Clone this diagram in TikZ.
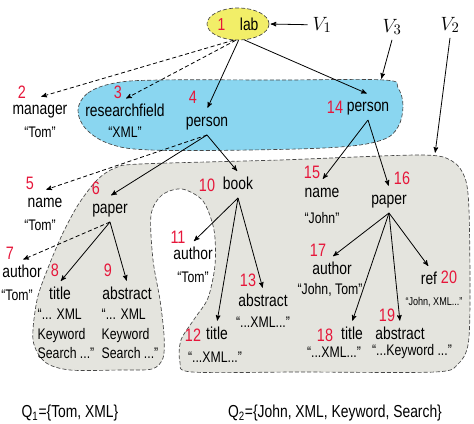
\documentclass[tikz,border=0pt]{standalone}
\usepackage{fontspec}
\setmainfont{Liberation Sans}[FakeStretch=0.8]
\usetikzlibrary{arrows,shapes.geometric}
\definecolor{numred}{RGB}{230,22,58}
\definecolor{bluefill}{RGB}{138,214,240}
\definecolor{grayfill}{RGB}{228,228,222}
\definecolor{yellowfill}{RGB}{242,238,104}
\definecolor{border}{RGB}{70,70,70}

\begin{document}
\begin{tikzpicture}[x=0.75pt,y=-0.75pt,>=stealth',line width=0.6pt]
\tikzstyle{lbl}=[font=\fontsize{13}{15}\selectfont,inner sep=1pt,outer sep=3pt,
                 text height=9pt,text depth=2.5pt]
\tikzstyle{num}=[font=\fontsize{13.5}{15}\selectfont,text=numred,inner sep=1pt]
\tikzstyle{val}=[font=\fontsize{11.5}{14.8}\selectfont,inner sep=1pt]
\tikzstyle{tiny}=[font=\fontsize{8.5}{10}\selectfont,inner sep=1pt]
\tikzstyle{region}=[draw=border,dashed,dash pattern=on 3pt off 1.6pt,line width=0.5pt]
\tikzstyle{conn}=[->,shorten >=1pt]
\useasboundingbox (0,0) rectangle (474,424);

% regions
\draw[region,fill=bluefill] plot[smooth cycle,tension=0.6] coordinates {
  (78,110) (88,93) (115,83) (160,80) (280,80) (384,80) (398,88) (403,106)
  (398,127) (382,140) (340,147) (250,150) (150,150) (110,144) (86,129)};
\draw[region,fill=grayfill] plot[smooth cycle,tension=0.5] coordinates {
  (140,164) (280,160) (420,155) (452,161) (465,178) (469,210) (470,300)
  (468,345) (458,364) (435,372) (300,372) (192,372) (180,362) (181,340)
  (195,318) (208,298) (215,265) (214,230) (203,201) (182,189) (162,195)
  (151,215) (153,260) (160,300) (164,335) (163,358) (152,369) (120,370)
  (70,370) (45,362) (33,340) (37,300) (48,268) (62,235) (78,205) (97,180)
  (115,168)};
\node[ellipse,region,fill=yellowfill,minimum width=46.5pt,minimum height=24pt,
      inner sep=0pt,font=\fontsize{13}{15}\selectfont] (n1) at (238,24)
      {{\color{numred}1}\hspace{11pt}lab};

% tree nodes
\node[lbl] (n2) at (40,110) {manager};
\node[num] (d2) at (22,92) {2};
\node[val] (v2) at (40,132) {“Tom”};
\node[lbl] (n3) at (125,112) {researchfield};
\node[num] (d3) at (118,92) {3};
\node[val] (v3) at (125,132) {“XML”};
\node[lbl] (n4) at (207,122) {person};
\node[num] (d4) at (193,97) {4};
\node[lbl] (n14) at (368,107) {person};
\node[num] (d14) at (335,107) {14};
\node[lbl] (n5) at (45,203) {name};
\node[num] (d5) at (30,183) {5};
\node[val] (v5) at (40,225) {“Tom”};
\node[lbl] (n6) at (110,209) {paper};
\node[num] (d6) at (96,188) {6};
\node[lbl] (n7) at (22,273) {author};
\node[num] (d7) at (10,253) {7};
\node[val] (v7) at (17,295) {“Tom”};
\node[lbl] (n8) at (60,295) {title};
\node[num] (d8) at (55,270) {8};
\node[val,align=left,anchor=west] (v8) at (36,334) {“... XML\\Keyword\\Search ...”};
\node[lbl] (n9) at (127,295) {abstract};
\node[num] (d9) at (108,270) {9};
\node[val,align=left,anchor=west] (v9) at (100,334) {“... XML\\Keyword\\Search ...”};
\node[lbl] (n10) at (238,185) {book};
\node[num] (d10) at (207,185) {10};
\node[lbl] (n11) at (193,255) {author};
\node[num] (d11) at (178,237) {11};
\node[val] (v11) at (193,277) {“Tom”};
\node[lbl] (n12) at (217,335) {title};
\node[num] (d12) at (193,335) {12};
\node[val] (v12) at (215,357) {“...XML...”};
\node[lbl] (n13) at (263,302) {abstract};
\node[num] (d13) at (248,280) {13};
\node[val] (v13) at (263,322) {“...XML...”};
\node[lbl] (n15) at (322,193) {name};
\node[num] (d15) at (312,172) {15};
\node[val] (v15) at (322,218) {“John”};
\node[lbl] (n16) at (389,200) {paper};
\node[num] (d16) at (402,178) {16};
\node[lbl] (n17) at (332,270) {author};
\node[num] (d17) at (318,250) {17};
\node[val] (v17) at (330,290) {“John, Tom”};
\node[lbl] (n18) at (352,335) {title};
\node[num] (d18) at (325,335) {18};
\node[val] (v18) at (334,352) {“...XML...”};
\node[lbl] (n19) at (400,335) {abstract};
\node[num] (d19) at (387,315) {19};
\node[val] (v19) at (412,352) {“...Keyword ...”};
\node[lbl] (n20) at (429,280) {ref};
\node[num] (d20) at (449,277) {20};
\node[tiny] (v20) at (434,302) {“John, XML...”};

% views and queries
\node[font=\fontsize{15}{18}\selectfont] (V1) at (322,25) {$V_1$};
\node[font=\fontsize{15}{18}\selectfont] (V3) at (392,27) {$V_3$};
\node[font=\fontsize{15}{18}\selectfont] (V2) at (450,25) {$V_2$};
\coordinate (tipV3) at (381,80);
\coordinate (tipV2) at (435,154);
\node[font=\fontsize{13}{15}\selectfont] (Q1) at (70,413) {Q\textsubscript{1}=\{Tom, XML\}};
\node[font=\fontsize{13}{15}\selectfont] (Q2) at (335,413) {Q\textsubscript{2}=\{John, XML, Keyword, Search\}};

% connectors
\path[conn] (n1.255) edge[densely dashed] (n2.north)
            (n1.262) edge[densely dashed] (n3.north)
            (n1.272) edge (n4.north)
            (n1.292) edge (n14.north)
            (n4.south) edge[densely dashed] (n5.north)
            (n4.south) edge (n6.north)
            (n4.south) edge (n10.north)
            (n14.south) edge (n15.north)
            (n14.south) edge (n16.north)
            (n6.south) edge[densely dashed] (n7.north)
            (n6.south) edge (n8.north)
            (n6.south) edge (n9.north)
            (n10.south) edge (n11.north)
            (n10.south) edge (n12.north)
            (n10.south) edge (n13.north)
            (n16.south) edge (n17.north)
            (n16.south) edge (n18.north)
            (n16.south) edge (n19.north)
            (n16.south) edge (n20.north)
            (V1) edge (n1.east)
            (V3.south) edge (tipV3)
            (V2.south) edge (tipV2);
\end{tikzpicture}
\end{document}
